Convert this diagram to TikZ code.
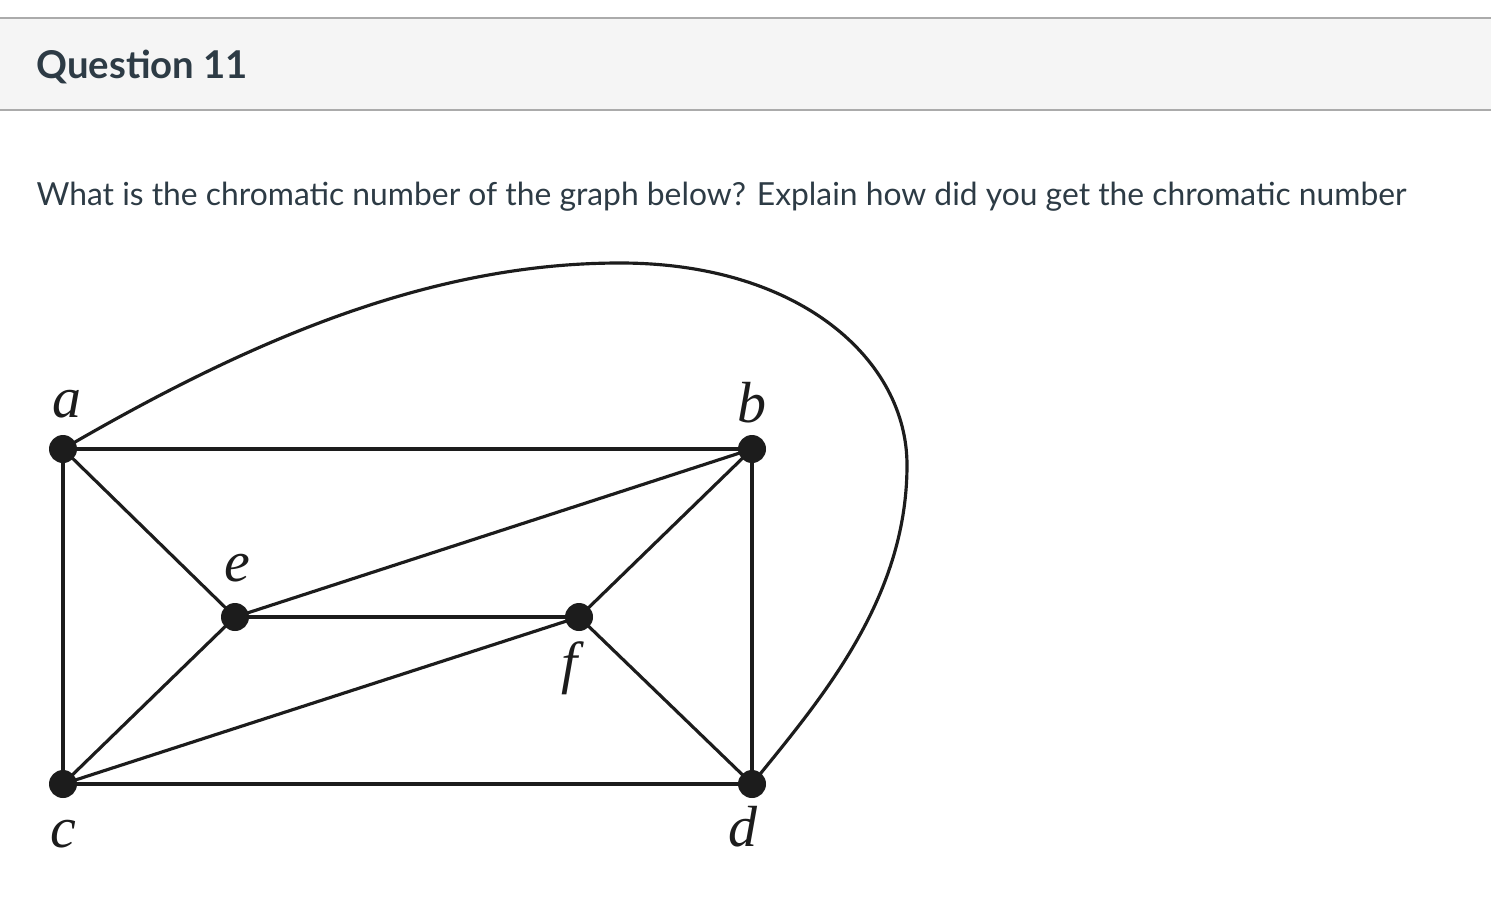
\documentclass[tikz,border=0pt]{standalone}
\usepackage{fontspec}
\setmainfont{Lato}
\newfontfamily\labelfont{Liberation Serif}
\usetikzlibrary{positioning}
\definecolor{canvastext}{HTML}{2D3B45}
\definecolor{headbg}{HTML}{F5F5F5}
\definecolor{headline}{HTML}{ABABAB}
\definecolor{edgecol}{HTML}{1C1C1C}

\begin{document}
\begin{tikzpicture}[x=0.02cm,y=-0.02cm,line width=1.8pt,draw=edgecol]
  \tikzstyle{vertex}=[circle,fill=edgecol,draw=none,inner sep=0pt,minimum size=0.56cm]
  \tikzstyle{vlabel}=[inner sep=0pt,font=\labelfont\itshape\fontsize{33}{33}\selectfont,text=edgecol]
  \useasboundingbox (0,0) rectangle (1491,916);
  % header band
  \fill[headbg] (0,18) rectangle (1491,110);
  \draw[headline,line width=1.1pt] (0,18) -- (1491,18);
  \draw[headline,line width=1.1pt] (0,110) -- (1491,110);
  \node (title) [anchor=base west,inner sep=0pt,text=canvastext,font=\bfseries\fontsize{21.8}{21.8}\selectfont] at (35,78) {Question 11};
  \node (question) [anchor=base west,inner sep=0pt,text=canvastext,font=\fontsize{18.1}{18.1}\selectfont] at (35,205)
    {What is the chromatic number of the graph below? Explain how did you get the chromatic number};

  % vertices
  \node [vertex] (a) at (63,449) {};
  \node [vertex] (b) at (752,449) {};
  \node [vertex] (c) at (63,784) {};
  \node [vertex] (d) at (752,784) {};
  \node [vertex] (e) at (235,617) {};
  \node [vertex] (f) at (579,617) {};

  % labels
  \node [vlabel,above=0.32cm of a,anchor=base,xshift=0.08cm] (la) {a};
  \node [vlabel,above=0.22cm of b,anchor=base] (lb) {b};
  \node [vlabel,below=0.96cm of c,anchor=base] (lc) {c};
  \node [vlabel,below=0.93cm of d,anchor=base,xshift=-0.18cm] (ld) {d};
  \node [vlabel,above=0.40cm of e,anchor=base,xshift=0.04cm] (le) {e};
  \node [vlabel,below=0.16cm of f,xshift=-0.18cm] (lf) {f};

  % edges
  \draw (a.center) -- (b.center);
  \draw (a.center) -- (c.center);
  \draw (a.center) -- (e.center);
  \draw (b.center) -- (e.center);
  \draw (b.center) -- (f.center);
  \draw (b.center) -- (d.center);
  \draw (c.center) -- (e.center);
  \draw (c.center) -- (f.center);
  \draw (c.center) -- (d.center);
  \draw (e.center) -- (f.center);
  \draw (f.center) -- (d.center);
  \draw (a.center) .. controls (250,340) and (430,263) .. (620,263)
    .. controls (800,263) and (907,360) .. (907,465)
    .. controls (907,600) and (820,700) .. (d.center);
\end{tikzpicture}
\end{document}
